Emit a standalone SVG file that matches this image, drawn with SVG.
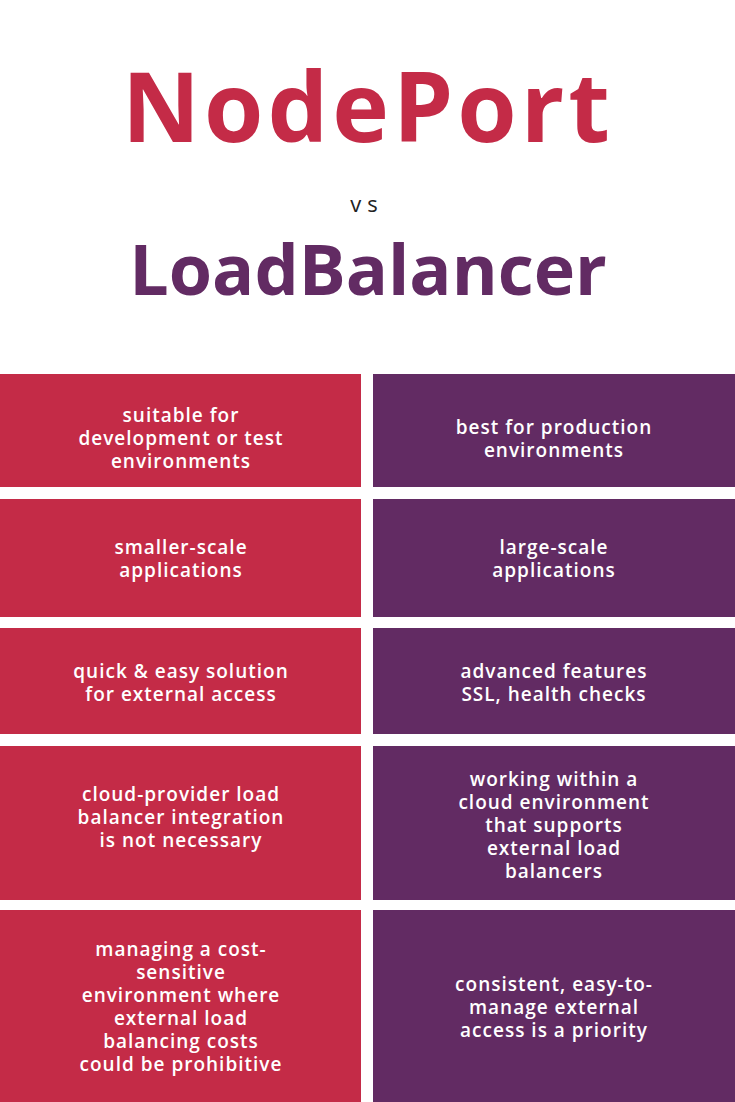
<svg xmlns="http://www.w3.org/2000/svg" width="735" height="1102" viewBox="0 0 735 1102">
<style>
.l{fill:#c42b47}.r{fill:#622b63}
.t{font-family:"Open Sans","Noto Sans",sans-serif;font-size:19px;font-weight:600;fill:#fff;text-anchor:middle;letter-spacing:1px}
.h{font-family:"Open Sans","Noto Sans",sans-serif;font-weight:bold;text-anchor:middle}
</style>
<rect width="735" height="1102" fill="#fff"/>
<g id="title">
<text class="h" x="368" y="142" font-size="96" fill="#c42b47" letter-spacing="4">NodePort</text>
<text x="367" y="212" style="font-family:'Open Sans',sans-serif;font-size:22px;fill:#222;text-anchor:middle;letter-spacing:6px">vs</text>
<text class="h" x="368" y="295" font-size="70" fill="#622b63">LoadBalancer</text>
</g>
<g id="n1"><rect class="l" x="0" y="374" width="361" height="113"/><text class="t" x="181" y="422">suitable for</text><text class="t" x="181" y="445">development or test</text><text class="t" x="181" y="468">environments</text></g>
<g id="n2"><rect class="r" x="373" y="374" width="362" height="113"/><text class="t" x="554" y="434">best for production</text><text class="t" x="554" y="457">environments</text></g>
<g id="n3"><rect class="l" x="0" y="499" width="361" height="118"/><text class="t" x="181" y="554">smaller-scale</text><text class="t" x="181" y="577">applications</text></g>
<g id="n4"><rect class="r" x="373" y="499" width="362" height="118"/><text class="t" x="554" y="554">large-scale</text><text class="t" x="554" y="577">applications</text></g>
<g id="n5"><rect class="l" x="0" y="628" width="361" height="106"/><text class="t" x="181" y="678">quick &amp; easy solution</text><text class="t" x="181" y="701">for external access</text></g>
<g id="n6"><rect class="r" x="373" y="628" width="362" height="106"/><text class="t" x="554" y="678">advanced features</text><text class="t" x="554" y="701">SSL, health checks</text></g>
<g id="n7"><rect class="l" x="0" y="746" width="361" height="154"/><text class="t" x="181" y="801">cloud-provider load</text><text class="t" x="181" y="824">balancer integration</text><text class="t" x="181" y="847">is not necessary</text></g>
<g id="n8"><rect class="r" x="373" y="746" width="362" height="154"/><text class="t" x="554" y="786">working within a</text><text class="t" x="554" y="809">cloud environment</text><text class="t" x="554" y="832">that supports</text><text class="t" x="554" y="855">external load</text><text class="t" x="554" y="878">balancers</text></g>
<g id="n9"><rect class="l" x="0" y="910" width="361" height="192"/><text class="t" x="181" y="956">managing a cost-</text><text class="t" x="181" y="979">sensitive</text><text class="t" x="181" y="1002">environment where</text><text class="t" x="181" y="1025">external load</text><text class="t" x="181" y="1048">balancing costs</text><text class="t" x="181" y="1071">could be prohibitive</text></g>
<g id="n10"><rect class="r" x="373" y="910" width="362" height="192"/><text class="t" x="554" y="991">consistent, easy-to-</text><text class="t" x="554" y="1014">manage external</text><text class="t" x="554" y="1037">access is a priority</text></g>
<g id="connectors"/>
</svg>
